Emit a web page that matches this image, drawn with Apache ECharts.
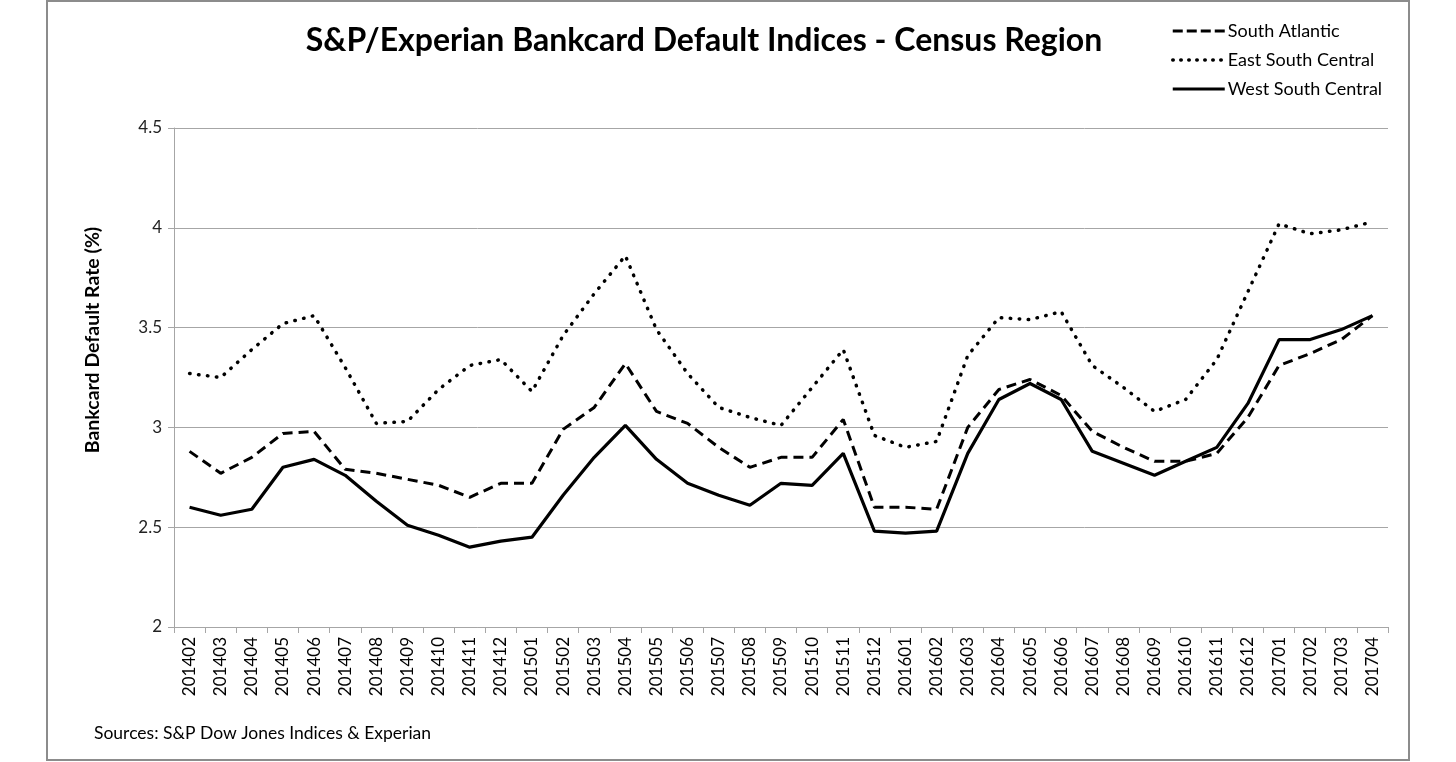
<!DOCTYPE html>
<html>
<head>
<meta charset="utf-8">
<script src="https://cdn.jsdelivr.net/npm/echarts@6/dist/echarts.min.js"></script>
<style>
html,body{margin:0;padding:0;background:#fff;}
#chart{width:1456px;height:762px;}
</style>
</head>
<body>
<div id="chart"></div>
<script>
const categories = ['201402','201403','201404','201405','201406','201407','201408','201409','201410','201411','201412','201501','201502','201503','201504','201505','201506','201507','201508','201509','201510','201511','201512','201601','201602','201603','201604','201605','201606','201607','201608','201609','201610','201611','201612','201701','201702','201703','201704'];
const southAtlantic = [2.88,2.77,2.85,2.97,2.98,2.79,2.77,2.74,2.71,2.65,2.72,2.72,2.99,3.10,3.32,3.08,3.02,2.90,2.80,2.85,2.85,3.04,2.60,2.60,2.59,3.00,3.19,3.24,3.16,2.98,2.90,2.83,2.83,2.87,3.05,3.31,3.37,3.44,3.56];
const eastSouthCentral = [3.27,3.25,3.39,3.52,3.56,3.30,3.02,3.03,3.19,3.31,3.34,3.18,3.46,3.67,3.86,3.49,3.27,3.10,3.05,3.01,3.20,3.39,2.96,2.90,2.93,3.36,3.55,3.54,3.58,3.31,3.20,3.08,3.14,3.34,3.68,4.02,3.97,3.99,4.03];
const westSouthCentral = [2.60,2.56,2.59,2.80,2.84,2.76,2.63,2.51,2.46,2.40,2.43,2.45,2.66,2.85,3.01,2.84,2.72,2.66,2.61,2.72,2.71,2.87,2.48,2.47,2.48,2.87,3.14,3.22,3.14,2.88,2.82,2.76,2.83,2.90,3.12,3.44,3.44,3.49,3.56];
const seriesNames = ['South Atlantic','East South Central','West South Central'];
const titleText = 'S&P/Experian Bankcard Default Indices - Census Region';
const yAxisName = 'Bankcard Default Rate (%)';
const sourceText = 'Sources: S&P Dow Jones Indices & Experian';

const font = 'Lato, "Open Sans", sans-serif';
const chart = echarts.init(document.getElementById('chart'), null, {renderer:'canvas'});
chart.setOption({
  backgroundColor:'#ffffff',
  animation:false,
  title:{
    text:titleText,
    left:699, top:20, textAlign:'center',
    textStyle:{fontFamily:font, fontSize:32, fontWeight:'bold', color:'#000'}
  },
  legend:{
    orient:'vertical',
    left:1166, top:17,
    itemWidth:52, itemHeight:14, itemGap:11,
    data:[
      {name:seriesNames[0], lineStyle:{color:'#000', width:3, type:[10,4]}},
      {name:seriesNames[1], lineStyle:{color:'#000', width:3.5, type:[0.5,7.5], cap:'round'}},
      {name:seriesNames[2], lineStyle:{color:'#000', width:3, type:'solid'}}
    ],
    itemStyle:{color:'rgba(0,0,0,0)', borderColor:'rgba(0,0,0,0)', borderWidth:0, opacity:0},
    textStyle:{fontFamily:font, fontSize:18, color:'#000', padding:[0,0,0,-2]}
  },
  grid:{left:174, right:68, top:128, bottom:135, containLabel:false},
  xAxis:{
    type:'category',
    data:categories,
    boundaryGap:true,
    axisLine:{lineStyle:{color:'#a6a6a6', width:1}},
    axisTick:{show:true, length:6, alignWithLabel:false, lineStyle:{color:'#a6a6a6'}},
    axisLabel:{rotate:90, interval:0, margin:10, fontFamily:font, fontSize:17, color:'#000'}
  },
  yAxis:{
    type:'value',
    min:2, max:4.5, interval:0.5,
    axisLine:{show:true, lineStyle:{color:'#a6a6a6', width:1}},
    axisTick:{show:true, length:6, lineStyle:{color:'#a6a6a6'}},
    axisLabel:{fontFamily:font, fontSize:17, color:'#222', margin:12},
    splitLine:{lineStyle:{color:'#a6a6a6', width:1}}
  },
  series:[
    {name:seriesNames[0], type:'line', data:southAtlantic, symbol:'none',
     lineStyle:{color:'#000', width:3, type:[10,6]}, itemStyle:{color:'#000'}},
    {name:seriesNames[1], type:'line', data:eastSouthCentral, symbol:'none',
     lineStyle:{color:'#000', width:3.5, type:[0.5,8.5], cap:'round'}, itemStyle:{color:'#000'}},
    {name:seriesNames[2], type:'line', data:westSouthCentral, symbol:'none',
     lineStyle:{color:'#000', width:3.2, type:'solid'}, itemStyle:{color:'#000'}}
  ],
  graphic:[
    {type:'rect', shape:{x:47, y:1, width:1362, height:759},
     style:{fill:null, stroke:'#8c8c8c', lineWidth:2}, silent:true, z:-1},
    {type:'text', left:94, top:724,
     style:{text:sourceText, font:'17.5px ' + font, fill:'#000'}},
    {type:'text', x:93, y:340, rotation:Math.PI/2,
     style:{text:yAxisName, font:'bold 19.5px ' + font, fill:'#000', align:'center', verticalAlign:'middle'}}
  ]
});
</script>
</body>
</html>
